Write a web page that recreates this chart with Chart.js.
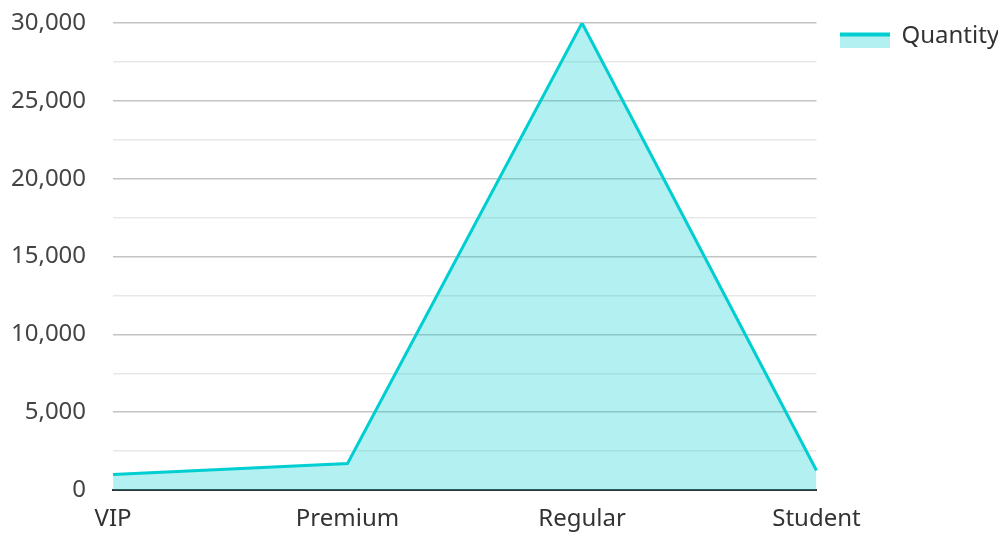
<!DOCTYPE html>
<html>
<head>
<meta charset="utf-8">
<script src="https://cdn.jsdelivr.net/npm/chart.js@4.4.1/dist/chart.umd.min.js"></script>
<style>
  html, body { margin: 0; padding: 0; background: #ffffff; }
  #wrap { width: 1004px; height: 533px; position: relative; }
</style>
</head>
<body>
<div id="wrap"><canvas id="chart"></canvas></div>
<script>
// Ticket types and quantities sold
const categories = ['VIP', 'Premium', 'Regular', 'Student'];
const quantity = [1000, 1700, 30000, 1250];
const seriesName = 'Quantity';

// Axis range and tick spacing (labels on every second tick)
const yMin = 0;
const yMax = 30000;
const yStep = 2500;
const yLabelEvery = 5000;

const lineColor = '#00CED1';
const fillColor = 'rgba(0, 206, 209, 0.3)';
const fontFamily = '"Noto Sans", "Open Sans", sans-serif';

// Legend marker: filled swatch with a thick line along its top edge,
// sitting a little below the text's centre line
function makeLegendSwatch() {
  const c = document.createElement('canvas');
  c.width = 50;
  c.height = 23;
  const g = c.getContext('2d');
  g.fillStyle = fillColor;
  g.fillRect(0, 8, 50, 15);
  g.fillStyle = lineColor;
  g.fillRect(0, 8, 50, 4);
  return c;
}

const fmt = new Intl.NumberFormat('en-US');

new Chart(document.getElementById('chart'), {
  type: 'line',
  data: {
    labels: categories,
    datasets: [{
      label: seriesName,
      data: quantity,
      borderColor: lineColor,
      backgroundColor: fillColor,
      borderWidth: 3,
      fill: 'origin',
      tension: 0,
      pointRadius: 0,
      pointHoverRadius: 0,
      pointStyle: makeLegendSwatch()
    }]
  },
  options: {
    responsive: true,
    maintainAspectRatio: false,
    animation: false,
    layout: { padding: { left: 11, top: 18, right: 6, bottom: 0 } },
    plugins: {
      legend: {
        position: 'right',
        align: 'start',
        labels: {
          usePointStyle: true,
          pointStyleWidth: 50,
          boxHeight: 15,
          color: '#333333',
          padding: 6,
          font: { family: fontFamily, size: 24 }
        }
      },
      tooltip: { enabled: false }
    },
    scales: {
      x: {
        offset: false,
        grid: { display: false, drawTicks: false },
        border: { display: true, color: '#333333', width: 2 },
        ticks: {
          color: '#333333',
          padding: 15,
          maxRotation: 0,
          font: { family: fontFamily, size: 24, lineHeight: '28px' }
        },
        // axis band below the plot: label gap plus one text line
        afterFit: (scale) => { scale.height = 43; }
      },
      y: {
        min: yMin,
        max: yMax,
        border: { display: false },
        grid: {
          drawTicks: true,
          tickLength: 27,
          tickColor: 'rgba(0,0,0,0)',
          lineWidth: 1.5,
          color: (ctx) => {
            const v = ctx.tick ? ctx.tick.value : 0;
            if (v === yMin) return 'rgba(0,0,0,0)';
            return v % yLabelEvery === 0 ? '#c4c4c4' : '#e8e8e8';
          }
        },
        ticks: {
          stepSize: yStep,
          autoSkip: false,
          color: '#444444',
          padding: 0,
          font: { family: fontFamily, size: 24, lineHeight: '46px' },
          callback: (v) => (v % yLabelEvery === 0 ? fmt.format(v) : '')
        }
      },
      // empty spacer between the plot and the legend
      gap: {
        type: 'linear',
        position: 'right',
        display: true,
        grid: { display: false, drawTicks: false },
        border: { display: false },
        ticks: { display: false },
        afterFit: (scale) => { scale.width = 17; }
      }
    }
  }
});
</script>
</body>
</html>
